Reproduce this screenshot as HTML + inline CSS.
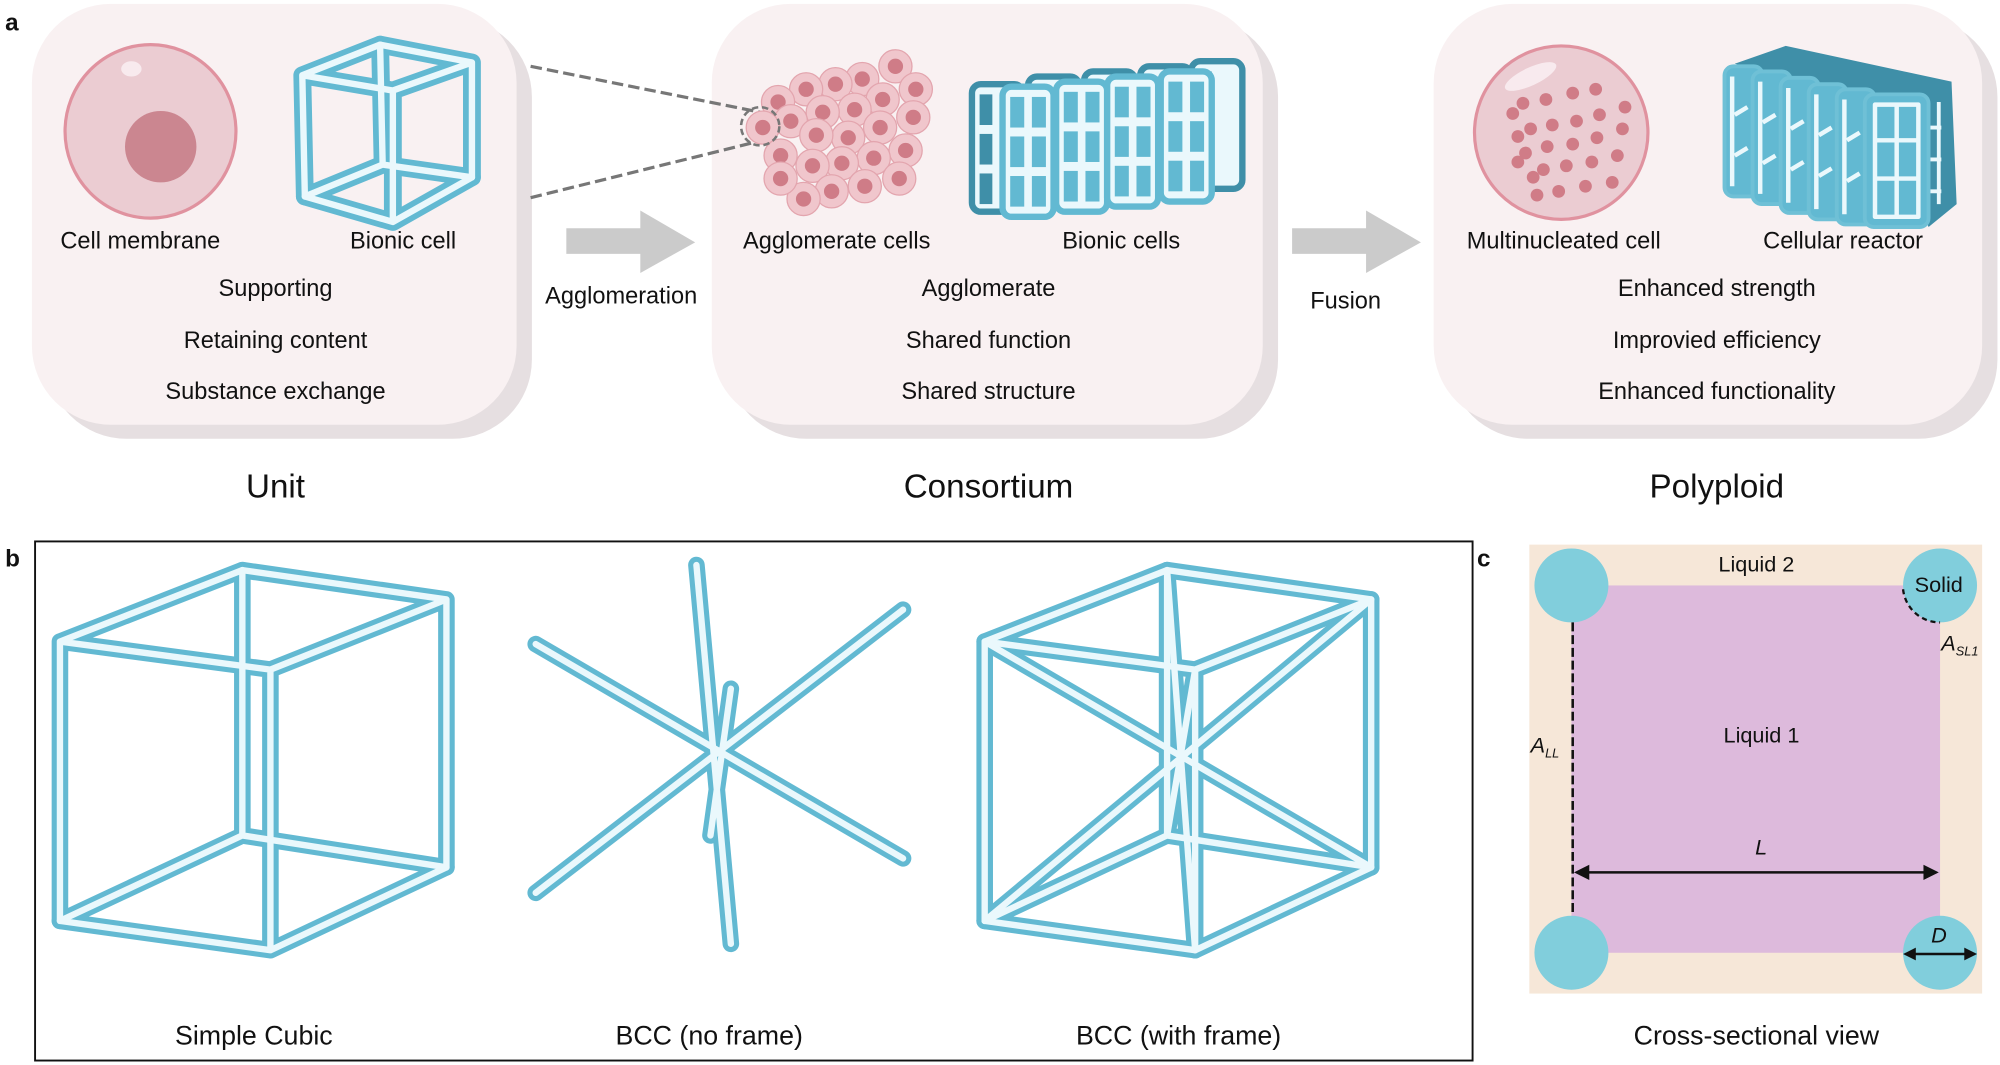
<!DOCTYPE html>
<html><head><meta charset="utf-8"><style>
html,body{margin:0;padding:0;background:#fff;}
svg{display:block;}
text{font-family:"Liberation Sans",Arial,sans-serif;fill:#111;}
</style></head><body>
<svg width="2000" height="1065" viewBox="0 0 1568 835" preserveAspectRatio="none" xmlns="http://www.w3.org/2000/svg">
<defs>
<g id="cellc"><circle r="13" fill="#f0c6cc" stroke="#e3a5ae" stroke-width="1"/><circle r="6" fill="#cf7c87"/></g>
<g id="slabF">
<rect x="0" y="0" width="40" height="102" rx="7" fill="#eaf8fc" stroke="#62b9d2" stroke-width="5"/>
<g fill="#62b9d2">
<rect x="6" y="8" width="11" height="24"/><rect x="23" y="8" width="11" height="24"/>
<rect x="6" y="39" width="11" height="24"/><rect x="23" y="39" width="11" height="24"/>
<rect x="6" y="70" width="11" height="24"/><rect x="23" y="70" width="11" height="24"/>
</g>
</g>
<g id="slabB">
<rect x="0" y="0" width="40" height="100" rx="7" fill="#eaf8fc" stroke="#3f8fa8" stroke-width="5"/>
<g fill="#3f8fa8">
<rect x="6" y="8" width="10" height="24"/><rect x="6" y="39" width="10" height="24"/><rect x="6" y="70" width="10" height="24"/>
</g>
</g>
</defs>
<rect width="1568" height="835" fill="#fff"/>
<!-- Panel a -->
<text x="4" y="24" font-size="19" font-weight="bold">a</text>
<rect x="37" y="14" width="380" height="330" rx="62" fill="#e6dfe1"/>
<rect x="25" y="3" width="380" height="330" rx="62" fill="#f9f1f2"/>
<rect x="570" y="14" width="432" height="330" rx="62" fill="#e6dfe1"/>
<rect x="558" y="3" width="432" height="330" rx="62" fill="#f9f1f2"/>
<rect x="1136" y="14" width="430" height="330" rx="62" fill="#e6dfe1"/>
<rect x="1124" y="3" width="430" height="330" rx="62" fill="#f9f1f2"/>

<!-- cell -->
<ellipse cx="118" cy="103" rx="67" ry="68" fill="#ebccd2" stroke="#e0929f" stroke-width="2.5"/>
<ellipse cx="126" cy="115" rx="28" ry="28" fill="#cb8690"/>
<ellipse cx="103" cy="54" rx="8" ry="6" fill="#f8eaee"/>

<!-- bionic cell cube -->
<g stroke-linecap="round" stroke-linejoin="round" fill="none">
<g stroke="#62b9d2" stroke-width="14">
<path d="M300,129 L298,35 M300,129 L239,154 M300,129 L370,139"/>
<path d="M237,59 L298,35 L370,49 L308,71 Z M237,59 L239,154 L308,174 L370,139 L370,49 M308,71 L308,174"/>
</g>
<g stroke="#eaf8fc" stroke-width="5">
<path d="M300,129 L298,35 M300,129 L239,154 M300,129 L370,139"/>
<path d="M237,59 L298,35 L370,49 L308,71 Z M237,59 L239,154 L308,174 L370,139 L370,49 M308,71 L308,174"/>
</g>
</g>

<!-- dashed zoom lines -->
<path d="M416,52 L596,88 M416,155 L598,110" stroke="#777" stroke-width="2.5" stroke-dasharray="9,4" fill="none"/>

<!-- agglomerate cluster -->
<g>
<use href="#cellc" x="702" y="52"/><use href="#cellc" x="676" y="62"/><use href="#cellc" x="655" y="66"/><use href="#cellc" x="632" y="70"/><use href="#cellc" x="718" y="70"/>
<use href="#cellc" x="610" y="80"/><use href="#cellc" x="692" y="78"/><use href="#cellc" x="670" y="86"/><use href="#cellc" x="645" y="88"/><use href="#cellc" x="716" y="92"/>
<use href="#cellc" x="620" y="95"/><use href="#cellc" x="690" y="100"/><use href="#cellc" x="665" y="108"/><use href="#cellc" x="640" y="106"/><use href="#cellc" x="710" y="118"/>
<use href="#cellc" x="598" y="100"/><use href="#cellc" x="612" y="122"/><use href="#cellc" x="685" y="124"/><use href="#cellc" x="660" y="128"/><use href="#cellc" x="637" y="130"/>
<use href="#cellc" x="705" y="140"/><use href="#cellc" x="678" y="146"/><use href="#cellc" x="652" y="150"/><use href="#cellc" x="630" y="156"/><use href="#cellc" x="612" y="140"/>
</g>
<circle cx="596" cy="99" r="15" fill="none" stroke="#777" stroke-width="2" stroke-dasharray="5,3"/>

<!-- bionic cells group -->
<use href="#slabB" x="762" y="66"/>
<use href="#slabB" x="806" y="60"/>
<use href="#slabB" x="850" y="56"/>
<use href="#slabB" x="894" y="52"/>
<use href="#slabB" x="934" y="48"/>
<use href="#slabF" x="786" y="68"/>
<use href="#slabF" x="828" y="64"/>
<use href="#slabF" x="868" y="60"/>
<use href="#slabF" x="910" y="56"/>

<!-- arrows -->
<path d="M444,179 H502 V165 L545,190 L502,214 V199 H444 Z" fill="#cbcbcb"/>
<path d="M1013,179 H1071 V165 L1114,190 L1071,214 V199 H1013 Z" fill="#cbcbcb"/>
<text x="487" y="238" font-size="18.5" text-anchor="middle">Agglomeration</text>
<text x="1055" y="242" font-size="18.5" text-anchor="middle">Fusion</text>

<!-- multinucleated cell -->
<ellipse cx="1224" cy="104" rx="68" ry="68" fill="#ebccd2" stroke="#e0929f" stroke-width="2.5"/>
<ellipse cx="1200" cy="60" rx="22" ry="7" fill="#f8eaee" transform="rotate(-25 1200 60)"/>
<g fill="#d07c87">
<circle cx="1251" cy="70" r="5"/><circle cx="1233" cy="73" r="5"/><circle cx="1212" cy="78" r="5"/><circle cx="1194" cy="81" r="5"/>
<circle cx="1274" cy="84" r="5"/><circle cx="1254" cy="90" r="5"/><circle cx="1236" cy="95" r="5"/><circle cx="1217" cy="98" r="5"/><circle cx="1186" cy="89" r="5"/><circle cx="1200" cy="101" r="5"/>
<circle cx="1272" cy="101" r="5"/><circle cx="1252" cy="108" r="5"/><circle cx="1233" cy="113" r="5"/><circle cx="1213" cy="115" r="5"/><circle cx="1190" cy="107" r="5"/><circle cx="1196" cy="120" r="5"/>
<circle cx="1268" cy="122" r="5"/><circle cx="1248" cy="127" r="5"/><circle cx="1228" cy="130" r="5"/><circle cx="1210" cy="133" r="5"/><circle cx="1190" cy="127" r="5"/>
<circle cx="1264" cy="143" r="5"/><circle cx="1243" cy="146" r="5"/><circle cx="1222" cy="150" r="5"/><circle cx="1202" cy="139" r="5"/><circle cx="1205" cy="153" r="5"/>
</g>

<!-- cellular reactor -->
<g stroke-linejoin="round">
<path d="M1360,50 L1400,36 L1530,64 L1534,160 L1512,178 L1470,80 Z" fill="#3f8fa8"/>
<g fill="none" stroke="#eaf8fc" stroke-width="3">
<path d="M1520,80 V160 M1512,100 h10 M1512,125 h10 M1512,150 h10"/>
</g>
<g fill="#62b9d2" stroke="#6fc0d6" stroke-width="3">
<rect x="1352" y="52" width="30" height="102" rx="7"/>
<rect x="1374" y="56" width="30" height="104" rx="7"/>
<rect x="1396" y="61" width="30" height="106" rx="7"/>
<rect x="1418" y="66" width="30" height="106" rx="7"/>
<rect x="1440" y="70" width="30" height="106" rx="7"/>
<rect x="1462" y="74" width="50" height="104" rx="7"/>
</g>
<g fill="none" stroke="#eaf8fc" stroke-width="3.5">
<path d="M1358,60 V146 M1380,64 V152 M1402,69 V159 M1424,74 V164 M1446,78 V168"/>
<path d="M1360,90 l10,-6 M1382,96 l10,-6 M1404,101 l10,-6 M1426,106 l10,-6 M1448,110 l10,-6 M1360,122 l10,-6 M1382,128 l10,-6 M1404,133 l10,-6 M1426,138 l10,-6 M1448,142 l10,-6"/>
<rect x="1470" y="82" width="34" height="88"/>
<path d="M1487,82 V170 M1470,110 H1504 M1470,140 H1504"/>
</g>
</g>

<!-- labels -->
<g font-size="18.5" text-anchor="middle">
<text x="110" y="195">Cell membrane</text>
<text x="316" y="195">Bionic cell</text>
<text x="656" y="195">Agglomerate cells</text>
<text x="879" y="195">Bionic cells</text>
<text x="1226" y="195">Multinucleated cell</text>
<text x="1445" y="195">Cellular reactor</text>
<text x="216" y="232">Supporting</text>
<text x="216" y="273">Retaining content</text>
<text x="216" y="313">Substance exchange</text>
<text x="775" y="232">Agglomerate</text>
<text x="775" y="273">Shared function</text>
<text x="775" y="313">Shared structure</text>
<text x="1346" y="232">Enhanced strength</text>
<text x="1346" y="273">Improvied efficiency</text>
<text x="1346" y="313">Enhanced functionality</text>
</g>
<g font-size="26" text-anchor="middle">
<text x="216" y="390">Unit</text>
<text x="775" y="390">Consortium</text>
<text x="1346" y="390">Polyploid</text>
</g>

<!-- Panel b -->
<text x="4" y="444" font-size="19" font-weight="bold">b</text>
<rect x="27.5" y="424.5" width="1127" height="407" fill="none" stroke="#111" stroke-width="1.5"/>
<g stroke-linecap="round" stroke-linejoin="round" fill="none">
<g>
<g stroke="#62b9d2" stroke-width="13">
<path d="M190,447 L190,655 L47,722 M190,655 L350,680"/>
<path d="M47,503 L190,447 L350,470 L212,525 Z M47,503 L47,722 L212,745 L350,680 L350,470 M212,525 L212,745"/>
</g>
<g stroke="#eaf8fc" stroke-width="5">
<path d="M190,447 L190,655 L47,722 M190,655 L350,680"/>
<path d="M47,503 L190,447 L350,470 L212,525 Z M47,503 L47,722 L212,745 L350,680 L350,470 M212,525 L212,745"/>
</g>
</g>
<g transform="translate(725,0)">
<g stroke="#62b9d2" stroke-width="13">
<path d="M190,447 L190,655 L47,722 M190,655 L350,680"/>
<path d="M47,503 L190,447 L350,470 L212,525 Z M47,503 L47,722 L212,745 L350,680 L350,470 M212,525 L212,745"/>
<path d="M47,503 L350,680 M212,525 L190,655 M190,447 L212,745 M350,470 L47,722"/>
</g>
<g stroke="#eaf8fc" stroke-width="5">
<path d="M190,447 L190,655 L47,722 M190,655 L350,680"/>
<path d="M47,503 L190,447 L350,470 L212,525 Z M47,503 L47,722 L212,745 L350,680 L350,470 M212,525 L212,745"/>
<path d="M47,503 L350,680 M212,525 L190,655 M190,447 L212,745 M350,470 L47,722"/>
</g>
</g>
<g stroke="#62b9d2" stroke-width="13">
<path d="M573,540 L557,655 M420,505 L708,673 M420,700 L708,478 M546,443 L573,740"/>
</g>
<g stroke="#eaf8fc" stroke-width="5">
<path d="M573,540 L557,655 M420,505 L708,673 M420,700 L708,478 M546,443 L573,740"/>
</g>
</g>
<g font-size="21" text-anchor="middle">
<text x="199" y="819">Simple Cubic</text>
<text x="556" y="819">BCC (no frame)</text>
<text x="924" y="819">BCC (with frame)</text>
<text x="1377" y="819">Cross-sectional view</text>
</g>

<!-- Panel c -->
<text x="1158" y="444" font-size="19" font-weight="bold">c</text>
<rect x="1199" y="427" width="355" height="352" fill="#f6e7d8"/>
<rect x="1232" y="459" width="289" height="288" fill="#ddbadc"/>
<g fill="#81cedc">
<circle cx="1232" cy="459" r="29"/><circle cx="1521" cy="459" r="29"/>
<circle cx="1232" cy="747" r="29"/><circle cx="1521" cy="747" r="29"/>
</g>
<path d="M1492,462 A29,29 0 0,0 1521,488" fill="none" stroke="#111" stroke-width="1.8" stroke-dasharray="4,3"/>
<path d="M1233,488 V718" stroke="#111" stroke-width="2" stroke-dasharray="7,3"/>
<path d="M1236,684 H1518" stroke="#111" stroke-width="2"/>
<path d="M1234,684 l12,-6 v12 z M1520,684 l-12,-6 v12 z" fill="#111"/>
<path d="M1494,748 H1548" stroke="#111" stroke-width="2"/>
<path d="M1492,748 l10,-5 v10 z M1550,748 l-10,-5 v10 z" fill="#111"/>
<g font-size="17">
<text x="1377" y="448" text-anchor="middle">Liquid 2</text>
<text x="1520" y="464" text-anchor="middle">Solid</text>
<text x="1381" y="582" text-anchor="middle">Liquid 1</text>
<text x="1376" y="670" font-style="italic">L</text>
<text x="1514" y="739" font-style="italic">D</text>
<text x="1200" y="590" font-style="italic">A<tspan font-size="10" dy="4">LL</tspan></text>
<text x="1522" y="510" font-style="italic">A<tspan font-size="10" dy="4">SL1</tspan></text>
</g>
</svg>
</body></html>
